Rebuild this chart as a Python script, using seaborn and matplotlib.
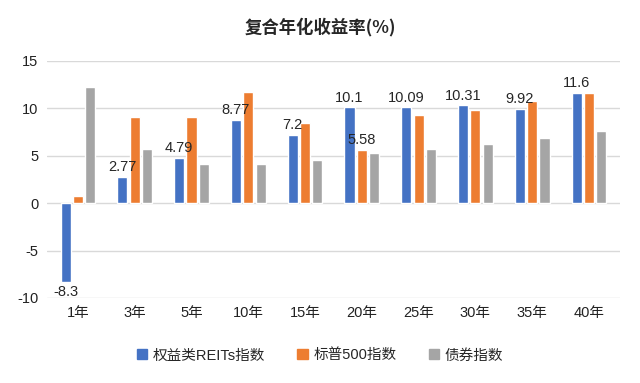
import seaborn as sns
import matplotlib.pyplot as plt
import pandas as pd

# Chart data
periods = ['1年', '3年', '5年', '10年', '15年', '20年', '25年', '30年', '35年', '40年']
reits = [-8.3, 2.77, 4.79, 8.77, 7.2, 10.1, 10.09, 10.31, 9.92, 11.6]
sp500 = [0.8, 9.04, 9.04, 11.72, 8.5, 5.58, 9.29, 9.85, 10.77, 11.57]
bonds = [12.25, 5.7, 4.18, 4.18, 4.57, 5.34, 5.73, 6.26, 6.86, 7.63]
series_names = ['权益类REITs指数', '标普500指数', '债券指数']
colors = ['#4472C4', '#ED7D31', '#A5A5A5']
y_ticks = [-10, -5, 0, 5, 10, 15]

# long format for seaborn
df = pd.DataFrame({
    'period': periods * 3,
    'value': reits + sp500 + bonds,
    'series': [series_names[0]] * len(periods) + [series_names[1]] * len(periods) + [series_names[2]] * len(periods),
})

sns.set_theme(style='white')
plt.rcParams['font.family'] = ['Liberation Sans', 'Noto Sans CJK SC']
plt.rcParams['axes.unicode_minus'] = False

fig = plt.figure(figsize=(6.4, 3.83), dpi=100)
ax = fig.add_axes([0.073, 0.222, 0.896, 0.619])

sns.barplot(data=df, x='period', y='value', hue='series', hue_order=series_names,
            palette=colors, saturation=1, width=0.65, gap=0.18, ax=ax, legend=False)

# gridlines
ax.set_ylim(-10, 15)
ax.set_yticks(y_ticks)
ax.grid(axis='y', color='#D9D9D9', linewidth=1)
ax.set_axisbelow(True)
for s in ax.spines.values():
    s.set_visible(False)
ax.tick_params(axis='both', length=0, labelsize=10.5, colors='#222222', pad=6)
ax.set_xlabel('')
ax.set_ylabel('')
ax.set_xlim(-0.55, 9.55)

# data labels: blue series on all, orange only at 20年
ax.bar_label(ax.containers[0], labels=[f'{v:g}' for v in reits], fontsize=10.5, padding=2)
orange_labels = ['' for _ in sp500]
orange_labels[5] = f'{sp500[5]:g}'
ax.bar_label(ax.containers[1], labels=orange_labels, fontsize=10.5, padding=2)

fig.suptitle('复合年化收益率(%)', x=0.5, y=0.955, fontsize=12.5, fontweight='bold',
             family=['Noto Sans CJK SC'])

handles = [plt.Rectangle((0, 0), 1, 1, color=c) for c in colors]
fig.legend(handles, series_names, loc='center', bbox_to_anchor=(0.5, 0.072), ncol=3,
           frameon=False, fontsize=10.5, handlelength=0.7, handleheight=0.7,
           handletextpad=0.4, columnspacing=2.2)

fig.savefig('out.png', dpi=100)
